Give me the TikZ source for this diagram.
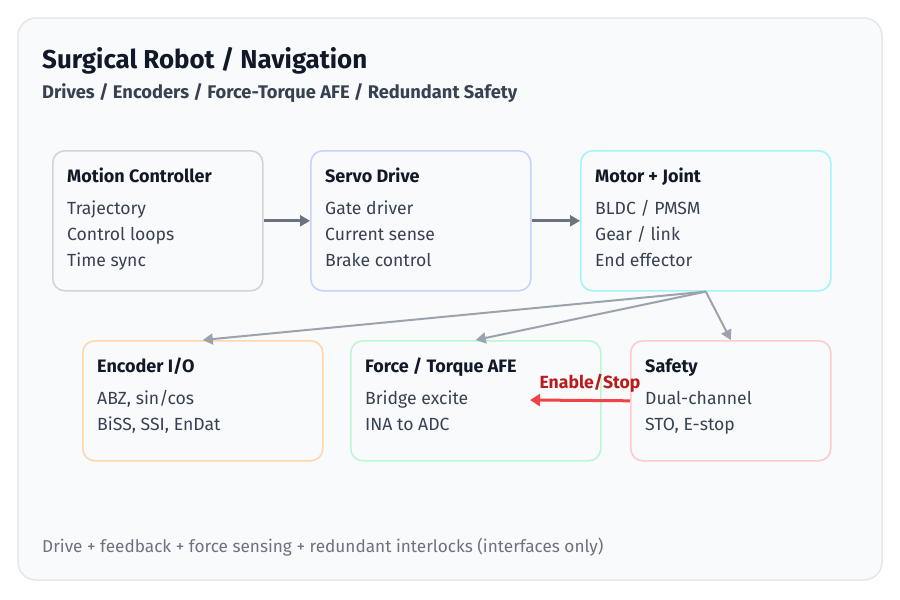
\documentclass[tikz,border=0pt]{standalone}
\usepackage{fontspec}
\setmainfont{Fira Sans}
\usepackage{xcolor}
\usetikzlibrary{arrows.meta,positioning}
\definecolor{ink}{HTML}{111827}
\definecolor{subink}{HTML}{374151}
\definecolor{bodyink}{HTML}{374151}
\definecolor{footink}{HTML}{6B7280}
\definecolor{panelfill}{HTML}{F9FAFB}
\definecolor{panelline}{HTML}{E5E7EB}
\definecolor{mcline}{HTML}{D1D5DB}
\definecolor{sdline}{HTML}{C7D2FE}
\definecolor{mjline}{HTML}{A5F3FC}
\definecolor{encline}{HTML}{FED7AA}
\definecolor{ftline}{HTML}{BBF7D0}
\definecolor{safline}{HTML}{FECACA}
\definecolor{flowgray}{HTML}{6B7280}
\definecolor{fanout}{HTML}{9CA3AF}
\definecolor{stopred}{HTML}{EF4444}
\definecolor{stoplbl}{HTML}{B91C1C}
\tikzset{
  blk/.style={draw, line width=1.6pt, rounded corners=12pt, fill=panelfill,
    anchor=north west, inner sep=0pt},
  blktitle/.style={anchor=base west, font=\bfseries\fontsize{18}{21}\selectfont, text=ink, inner sep=0pt},
  blkline/.style={anchor=base west, font=\fontsize{17.6}{21}\selectfont, text=bodyink, inner sep=0pt},
  mainflow/.style={line width=3pt, draw=flowgray, -{Triangle[length=10pt,width=11pt]}},
  fanflow/.style={line width=2pt, draw=fanout, -{Triangle[length=10pt,width=11pt]}},
}
\begin{document}
\begin{tikzpicture}[x=1pt,y=-1pt]
  \useasboundingbox[fill=white] (0,0) rectangle (900,600);
  \draw[panelline, fill=panelfill, line width=1.5pt, rounded corners=18pt] (18,18) rectangle (882,580);
  \node[anchor=base west, inner sep=0pt, text=ink, font=\bfseries\fontsize{25.9}{30}\selectfont] (title) at (42,68) {Surgical Robot / Navigation};
  \node[anchor=base west, inner sep=0pt, text=subink, font=\bfseries\fontsize{18.3}{21}\selectfont] (subtitle) at (42,98) {Drives / Encoders / Force-Torque AFE / Redundant Safety};

  % top row
  \node[blk, draw=mcline, minimum width=210pt, minimum height=140pt] (mc) at (52,150) {};
  \node[blktitle] at (67,182) {Motion Controller};
  \foreach \y/\txt in {214/Trajectory,240/Control loops,266/Time sync}
    \node[blkline] at (67,\y) {\txt};
  \node[blk, draw=sdline, minimum width=220pt, minimum height=140pt] (sd) at (310,150) {};
  \node[blktitle] at (325,182) {Servo Drive};
  \foreach \y/\txt in {214/Gate driver,240/Current sense,266/Brake control}
    \node[blkline] at (325,\y) {\txt};
  \node[blk, draw=mjline, minimum width=250pt, minimum height=140pt] (mj) at (580,150) {};
  \node[blktitle] at (595,182) {Motor + Joint};
  \foreach \y/\txt in {214/{BLDC / PMSM},240/{Gear / link},266/End effector}
    \node[blkline] at (595,\y) {\txt};

  % bottom row
  \node[blk, draw=encline, minimum width=240pt, minimum height=120pt] (enc) at (82,340) {};
  \node[blktitle] at (97,372) {Encoder I/O};
  \foreach \y/\txt in {404/{ABZ, sin/cos},430/{BiSS, SSI, EnDat}}
    \node[blkline] at (97,\y) {\txt};
  \node[blk, draw=ftline, minimum width=250pt, minimum height=120pt] (ft) at (350,340) {};
  \node[blktitle] at (365,372) {Force / Torque AFE};
  \foreach \y/\txt in {404/Bridge excite,430/INA to ADC}
    \node[blkline] at (365,\y) {\txt};
  \node[blk, draw=safline, minimum width=200pt, minimum height=120pt] (saf) at (630,340) {};
  \node[blktitle] at (645,372) {Safety};
  \foreach \y/\txt in {404/Dual-channel,430/{STO, E-stop}}
    \node[blkline] at (645,\y) {\txt};

  % connectors
  \draw[mainflow] (mc.east) -- (sd.west);
  \draw[mainflow] (sd.east) -- (mj.west);
  \draw[fanflow] (mj.south) -- (enc.north);
  \draw[fanflow] (mj.south) -- (ft.north);
  \draw[fanflow] (mj.south) -- (saf.north);
  \coordinate (stopend) at (530,400);
  \draw[line width=3pt, draw=stopred, -{Triangle[length=10pt,width=12pt]}] (saf.west) -- (stopend);
  \node[anchor=base, inner sep=0pt, text=stoplbl, font=\bfseries\fontsize{17.6}{21}\selectfont] (stoplbl) at (590,388) {Enable/Stop};

  \node[anchor=base west, inner sep=0pt, text=footink, font=\fontsize{17.2}{20}\selectfont] (foot) at (42,552) {Drive + feedback + force sensing + redundant interlocks (interfaces only)};
\end{tikzpicture}
\end{document}
